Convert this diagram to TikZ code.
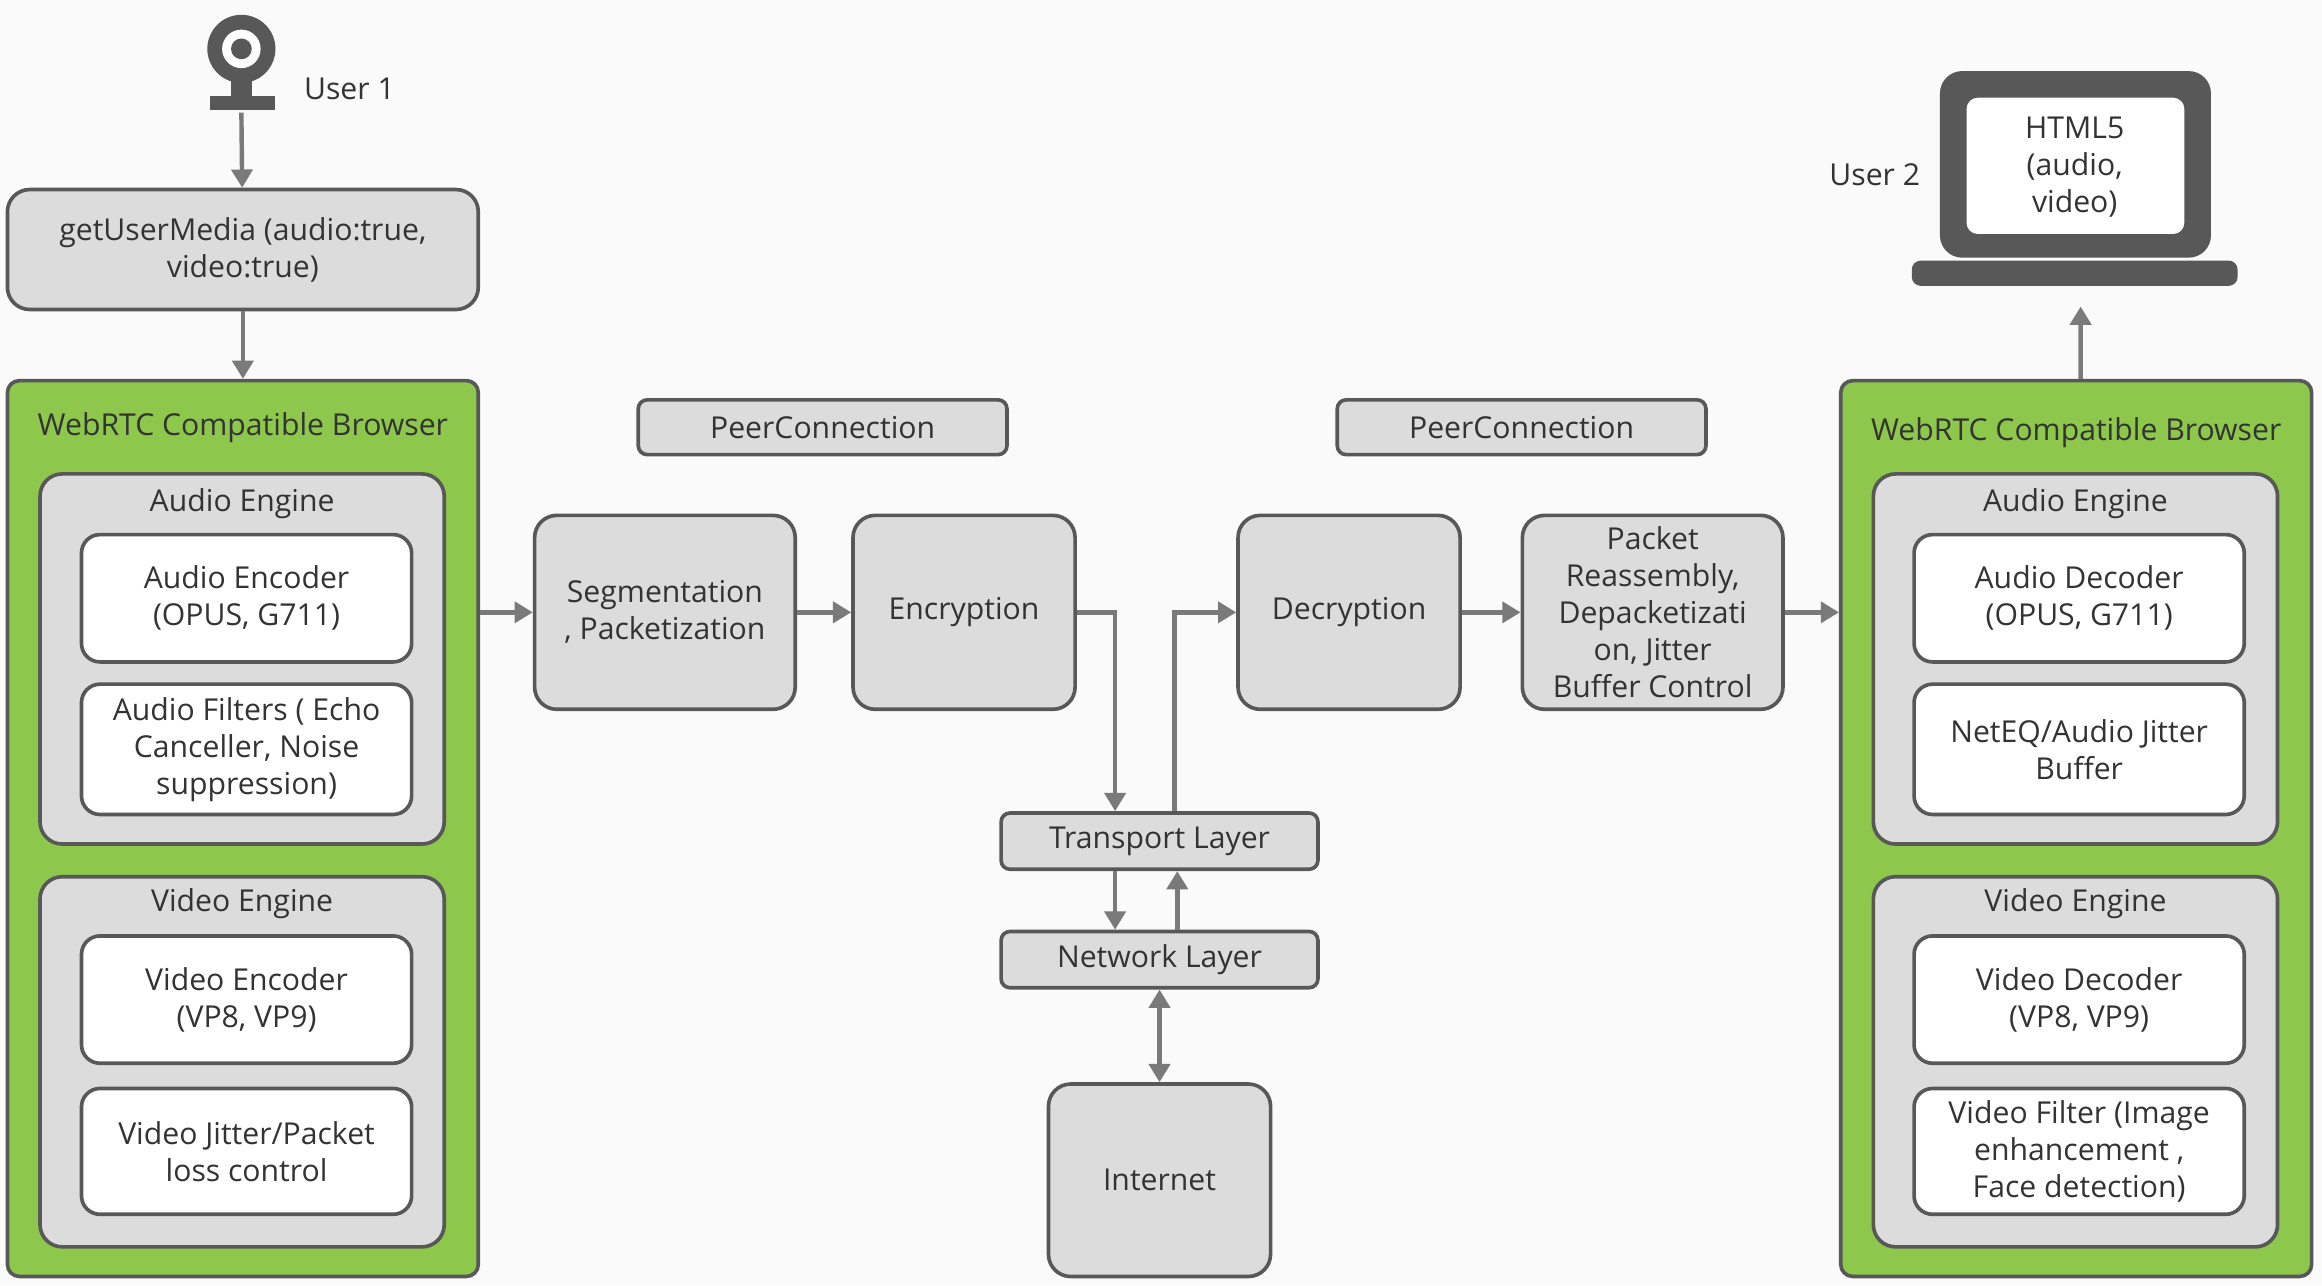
\documentclass[tikz,border=0pt]{standalone}
\usepackage{fontspec}
\setmainfont{Open Sans}
\usetikzlibrary{arrows.meta,positioning}
\definecolor{edge}{HTML}{585858}
\definecolor{boxgray}{HTML}{DCDCDC}
\definecolor{green1}{HTML}{8DC74B}
\definecolor{arrgray}{HTML}{7A7A7A}
\definecolor{txt}{HTML}{333333}
\tikzset{
  base/.style={draw=edge,line width=1.4pt,align=center,text=txt,font=\fontsize{11.6}{14.2}\selectfont,inner sep=2pt},
  gbox/.style={base,fill=boxgray,rounded corners=0.3cm},
  wbox/.style={base,fill=white,rounded corners=0.25cm,minimum width=4.46cm},
  brw/.style={base,fill=green1,rounded corners=0.16cm,minimum width=6.36cm,minimum height=12.1cm},
  eng/.style={gbox,minimum width=5.46cm,minimum height=5cm},
  lbl/.style={text=txt,font=\fontsize{11.6}{14.2}\selectfont,align=center},
  arr/.style={draw=arrgray,line width=1.7pt,-{Triangle[width=8pt,length=7pt]}},
  arr2/.style={arr,{Triangle[width=8pt,length=7pt]}-{Triangle[width=8pt,length=7pt]}}
}
\begin{document}
\begin{tikzpicture}[x=0.02cm,y=-0.02cm]
\fill[white!96!gray] (0,0) rectangle (1568,868);
\useasboundingbox (0,0) rectangle (1568,868);

% user 1 camera
\fill[edge] (163,33) circle (23);
\fill[white] (163,33) circle (13);
\fill[edge] (163,33) circle (7);
\fill[edge] (156,54) rectangle (170,66);
\fill[edge] (142,65) rectangle (186,74);
\coordinate (cam) at (163,76);
\node[lbl] (u1) at (236,60) {User 1};

% sender side
\node[gbox,minimum width=6.36cm,minimum height=1.62cm] (gum) at (164,168.5) {getUserMedia (audio:true,\\video:true)};
\node[brw] (brL) at (164,559.5) {};
\node[lbl] (brLt) at (164,289) {WebRTC Compatible Browser};
\node[eng] (aeL) at (163.5,445) {};
\node[lbl] (aeLt) at (163.5,340) {Audio Engine};
\node[wbox,minimum height=1.72cm] (aenc) at (166.5,404) {Audio Encoder\\(OPUS, G711)};
\node[wbox,minimum height=1.76cm] (afil) at (166.5,506) {Audio Filters ( Echo\\Canceller, Noise\\suppression)};
\node[eng] (veL) at (163.5,717) {};
\node[lbl] (veLt) at (163.5,610) {Video Engine};
\node[wbox,minimum height=1.72cm] (venc) at (166.5,675) {Video Encoder\\(VP8, VP9)};
\node[wbox,minimum height=1.7cm] (vjit) at (166.5,777.5) {Video Jitter/Packet\\loss control};

% transport path
\node[gbox,minimum width=4.98cm,minimum height=0.74cm,rounded corners=0.12cm] (pc1) at (555.5,288.5) {PeerConnection};
\node[gbox,minimum width=4.98cm,minimum height=0.74cm,rounded corners=0.12cm] (pc2) at (1027.5,288.5) {PeerConnection};
\node[gbox,minimum width=3.52cm,minimum height=2.62cm] (seg) at (449,413.5) {Segmentation\\, Packetization};
\node[gbox,minimum width=3cm,minimum height=2.62cm] (enc) at (651,413.5) {Encryption};
\node[gbox,minimum width=4.28cm,minimum height=0.76cm,rounded corners=0.12cm] (tl) at (783,568) {Transport Layer};
\node[gbox,minimum width=4.28cm,minimum height=0.76cm,rounded corners=0.12cm] (nl) at (783,648) {Network Layer};
\node[gbox,minimum width=3cm,minimum height=2.6cm] (inet) at (783,797) {Internet};
\node[gbox,minimum width=3cm,minimum height=2.62cm] (dec) at (911,413.5) {Decryption};
\node[gbox,minimum width=3.52cm,minimum height=2.62cm] (pra) at (1116,413.5) {Packet\\Reassembly,\\Depacketizati\\on, Jitter\\Buffer Control};

% receiver side
\node[brw] (brR) at (1402,559.5) {};
\node[lbl] (brRt) at (1402,292) {WebRTC Compatible Browser};
\node[eng] (aeR) at (1401.5,445) {};
\node[lbl] (aeRt) at (1401.5,340) {Audio Engine};
\node[wbox,minimum height=1.72cm] (adec) at (1404,404) {Audio Decoder\\(OPUS, G711)};
\node[wbox,minimum height=1.76cm] (neq) at (1404,506) {NetEQ/Audio Jitter\\Buffer};
\node[eng] (veR) at (1401.5,717) {};
\node[lbl] (veRt) at (1401.5,610) {Video Engine};
\node[wbox,minimum height=1.72cm] (vdec) at (1404,675) {Video Decoder\\(VP8, VP9)};
\node[wbox,minimum height=1.7cm] (vfil) at (1404,777.5) {Video Filter (Image\\enhancement ,\\Face detection)};

% user 2 laptop
\fill[edge,rounded corners=0.3cm] (1310,48) rectangle (1493,174);
\fill[white,rounded corners=0.15cm] (1328,66) rectangle (1475,158);
\fill[edge,rounded corners=0.12cm] (1291,176) rectangle (1511,193);
\node[lbl] (html) at (1401,113) {HTML5\\(audio,\\video)};
\coordinate (lap) at (1405,207);
\node[lbl] (u2) at (1266,118) {User 2};

% connectors
\draw[arr] (cam) -- (gum);
\draw[arr] (gum) -- (brL);
\draw[arr] (brL.east |- seg) -- (seg);
\draw[arr] (seg) -- (enc);
\draw[arr] (enc.east) -| ([xshift=-0.6cm]tl.north);
\draw[arr] ([xshift=0.2cm]tl.north) |- (dec.west);
\draw[arr] ([xshift=-0.6cm]tl.south) -- ([xshift=-0.6cm]nl.north);
\draw[arr] ([xshift=0.24cm]nl.north) -- ([xshift=0.24cm]tl.south);
\draw[arr2] (nl) -- (inet);
\draw[arr] (dec) -- (pra);
\draw[arr] (pra) -- (brR.west |- pra);
\draw[arr] ([xshift=0.06cm]brR.north) -- (lap);
\end{tikzpicture}
\end{document}
